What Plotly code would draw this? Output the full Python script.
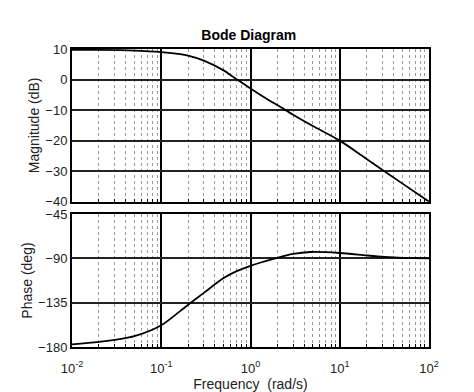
import plotly.graph_objects as go
from plotly.subplots import make_subplots

# Magnitude readings (rad/s, dB)
mag_freq = [0.01, 0.02, 0.05, 0.1, 0.163, 0.2, 0.3, 0.5, 0.66, 1.0, 1.5, 2.17, 3.0, 5.0, 10.0, 20.0, 50.0, 100.0]
mag_db = [9.7, 9.7, 9.5, 9.0, 8.3, 7.8, 6.2, 3.0, 0.6, -2.9, -6.2, -9.0, -11.5, -15.2, -20.0, -26.0, -34.0, -40.0]

# Phase readings (rad/s, deg)
ph_freq = [0.01, 0.02, 0.05, 0.1, 0.2, 0.3, 0.5, 0.7, 1.0, 1.9, 3.0, 4.7, 10.0, 20.0, 31.6, 50.0, 100.0]
ph_deg = [-177.3, -174.9, -169.0, -158.0, -137.0, -125.0, -110.0, -103.0, -97.5, -90.0, -85.5, -83.5, -84.5, -87.0, -88.5, -89.5, -90.0]

x_tickvals = [0.01, 0.1, 1, 10, 100]
x_ticktext = ["10<sup>-2</sup>", "10<sup>-1</sup>", "10<sup>0</sup>", "10<sup>1</sup>", "10<sup>2</sup>"]
x_minor = [m * d for d in [0.01, 0.1, 1, 10] for m in range(2, 10)]
mag_ticks = [-40, -30, -20, -10, 0, 10]
ph_ticks = [-180, -135, -90, -45]

fig = make_subplots(rows=2, cols=1, shared_xaxes=False, vertical_spacing=0.0)

fig.add_trace(go.Scatter(x=mag_freq, y=mag_db, mode="lines",
                         line=dict(color="black", width=1.8, shape="spline", smoothing=0.8),
                         showlegend=False), row=1, col=1)
fig.add_trace(go.Scatter(x=ph_freq, y=ph_deg, mode="lines",
                         line=dict(color="black", width=1.8, shape="spline", smoothing=0.8),
                         showlegend=False), row=2, col=1)

font = "Liberation Sans, Arial, sans-serif"

common_x = dict(
    type="log", range=[-2, 2], automargin=False,
    tickmode="array", tickvals=x_tickvals, ticktext=x_ticktext,
    showline=True, linecolor="black", linewidth=2, mirror=True,
    showgrid=True, gridcolor="black", gridwidth=1.5,
    ticks="", zeroline=False,
    minor=dict(tickmode="array", tickvals=x_minor, showgrid=True, gridcolor="#9a9a9a",
               griddash="dot", gridwidth=1, ticks="inside", ticklen=3, tickcolor="black"),
    tickfont=dict(family=font, size=13, color="#222"),
)

fig.update_xaxes(**common_x, row=1, col=1)
fig.update_xaxes(**common_x, row=2, col=1)
fig.update_xaxes(showticklabels=False, row=1, col=1)
fig.update_xaxes(ticks="outside", ticklen=8, tickcolor="rgba(0,0,0,0)",
                 title=dict(text="Frequency  (rad/s)", font=dict(family=font, size=14, color="#222"), standoff=2),
                 row=2, col=1)

fig.update_yaxes(range=[-40, 10], tickvals=mag_ticks, automargin=False,
                 showline=True, linecolor="black", linewidth=2, mirror=True,
                 showgrid=True, gridcolor="#222", gridwidth=1.5, zeroline=False,
                 ticks="", tickfont=dict(family=font, size=13, color="#222"),
                 title=dict(text="Magnitude (dB)", font=dict(family=font, size=14, color="#222"), standoff=2),
                 row=1, col=1)
fig.update_yaxes(range=[-180, -45], tickvals=ph_ticks, automargin=False,
                 showline=True, linecolor="black", linewidth=2, mirror=True,
                 showgrid=True, gridcolor="#222", gridwidth=1.5, zeroline=False,
                 ticks="", tickfont=dict(family=font, size=13, color="#222"),
                 title=dict(text="Phase (deg)", font=dict(family=font, size=14, color="#222"), standoff=2),
                 row=2, col=1)

fig.update_layout(
    width=474, height=392,
    margin=dict(l=64, r=53, t=41, b=53, autoexpand=False),
    paper_bgcolor="white", plot_bgcolor="white",
    title=dict(text="<b>Bode Diagram</b>", x=0.508, xanchor="center",
               yref="container", y=1 - 27 / 392, yanchor="middle",
               font=dict(family=font, size=14, color="black")),
)
fig.update_layout(
    yaxis=dict(domain=[0.4876, 1.0]),
    yaxis2=dict(domain=[0.0, 0.446]),
)

fig.write_html("out.html")
